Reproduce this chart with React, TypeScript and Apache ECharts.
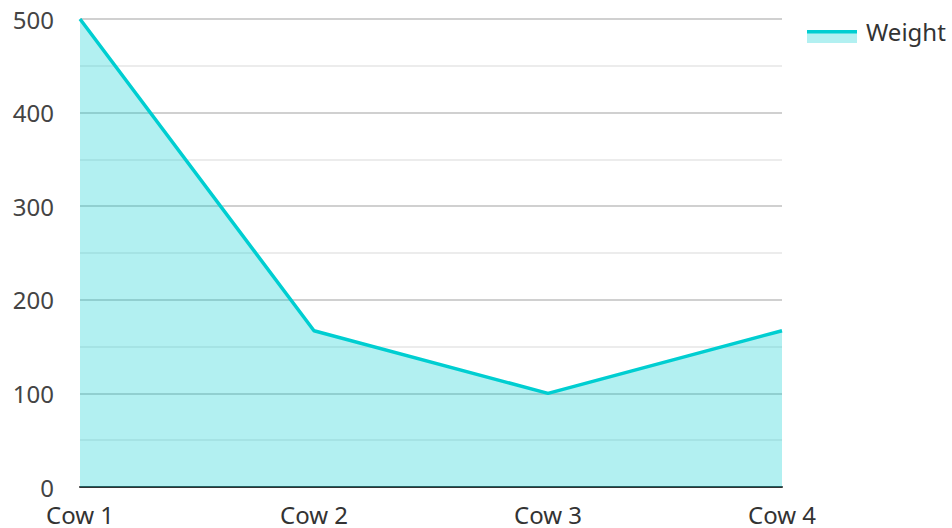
import React, { useEffect, useRef } from "react";
import * as echarts from "echarts";

const categories = ["Cow 1", "Cow 2", "Cow 3", "Cow 4"];
const weights = [500, 167, 100, 167];
const seriesName = "Weight";
const lineColor = "#00CED1";

export default function App() {
  const ref = useRef<HTMLDivElement>(null);
  useEffect(() => {
    const chart = echarts.init(ref.current!, null, { renderer: "svg" });
    chart.setOption({
      animation: false,
      textStyle: { fontFamily: "Noto Sans" },
      grid: { left: 80, right: 170, top: 19, bottom: 41 },
      xAxis: {
        type: "category",
        data: categories,
        boundaryGap: false,
        axisLine: { lineStyle: { color: "#333", width: 2 } },
        axisTick: { show: false },
        axisLabel: { color: "#333", fontSize: 24, margin: 15 },
      },
      yAxis: {
        type: "value",
        min: 0,
        max: 500,
        interval: 100,
        axisLine: { show: false },
        axisTick: { show: false },
        axisLabel: { color: "#444", fontSize: 24, margin: 26 },
        splitLine: { lineStyle: { color: "#c0c0c0", width: 1.5 } },
        minorTick: { show: false, splitNumber: 2 },
        minorSplitLine: { show: true, lineStyle: { color: "#e6e6e6", width: 1.5 } },
      },
      series: [
        {
          name: seriesName,
          type: "line",
          data: weights,
          symbol: "none",
          lineStyle: { color: lineColor, width: 3.5 },
          areaStyle: { color: lineColor, opacity: 0.3 },
          z: 1,
        },
      ],
      graphic: [
        { type: "rect", shape: { x: 807, y: 33, width: 50, height: 10 }, style: { fill: lineColor, opacity: 0.3 } },
        { type: "rect", shape: { x: 807, y: 30, width: 50, height: 3.5 }, style: { fill: lineColor } },
        {
          type: "text",
          x: 866,
          y: 31,
          style: { text: seriesName, fontSize: 24, fill: "#333", fontFamily: "Noto Sans", verticalAlign: "middle" },
        },
      ],
    });
    return () => chart.dispose();
  }, []);
  return <div ref={ref} style={{ width: 952, height: 528, position: "absolute", left: 0, top: 0 }} />;
}
